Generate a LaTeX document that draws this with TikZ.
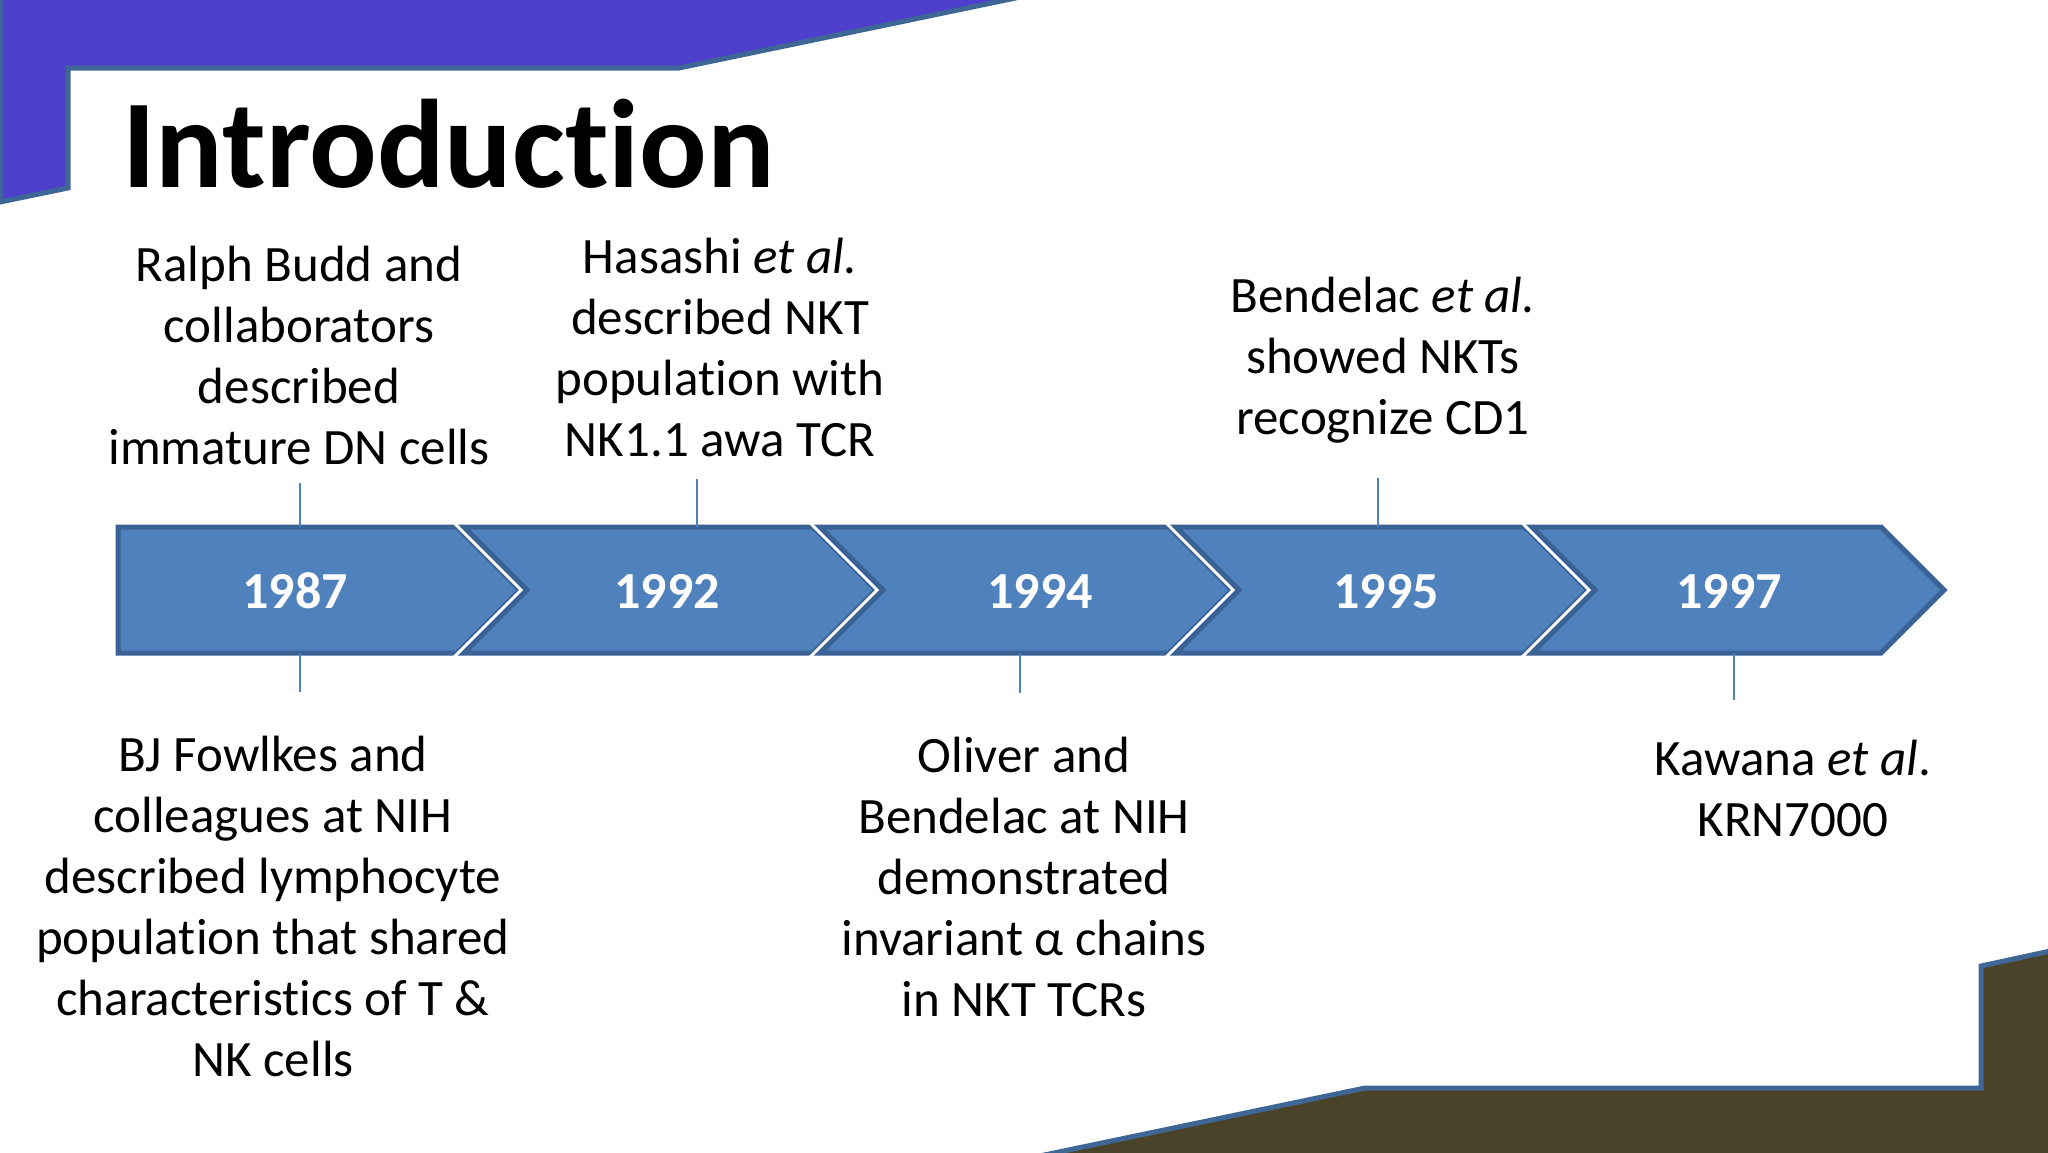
\documentclass[tikz,border=0pt]{standalone}
\usepackage{fontspec}
\setmainfont{Carlito}[Ligatures=NoCommon]
\definecolor{purpband}{HTML}{4E40CD}
\definecolor{oliveband}{HTML}{4A4329}
\definecolor{bandedge}{HTML}{3E6796}
\definecolor{chevfill}{HTML}{4F81BD}
\definecolor{chevedge}{HTML}{3B6294}
\definecolor{tickcol}{HTML}{4F81BD}
\newcommand{\bodyfont}{\fontsize{51bp}{61bp}\selectfont}
\newcommand{\yearfont}{\fontsize{52bp}{60bp}\selectfont\bfseries}
\newcommand{\titlefont}{\fontsize{126bp}{150bp}\selectfont\bfseries}
\begin{document}
\begin{tikzpicture}[x=1bp,y=-1bp,
  band/.style={draw=bandedge,line width=5bp,line join=miter},
  chevron/.style={fill=chevfill,draw=chevedge,line width=5bp,line join=miter},
  chevgap/.style={draw=white,line width=11bp,line join=miter},
  textblock/.style={align=center,font=\bodyfont,inner sep=0pt,text=black},
  yearlabel/.style={font=\yearfont,text=white,inner sep=0pt,anchor=base},
  tickline/.style={draw=tickcol,line width=2bp}]
\useasboundingbox (0,0) rectangle (2048,1152);
\fill[white] (0,0) rectangle (2048,1152);

% top-left band
\draw[band,fill=purpband] (0,-5) -- (1030,-5) -- (679,68) -- (68,68) -- (68,188) -- (0,202) -- cycle;
% bottom-right band
\draw[band,fill=oliveband] (1030,1158) -- (1365,1088) -- (1981,1088) -- (1981,966) -- (2055,950) -- (2055,1158) -- cycle;

% title
\node[font=\titlefont,anchor=base west,inner sep=0pt] (title) at (122,187) {Introduction};

% chevrons
\draw[chevron] (118,527) -- (457,527) -- (520,590) -- (457,653) -- (118,653) -- cycle;
\foreach \s/\l in {813/464,1169/820,1525/1176,1881/1532}{
  \draw[chevgap] (\l,527) -- (\s,527) -- (\s+63,590) -- (\s,653) -- (\l,653) -- (\l+63,590) -- cycle;
  \draw[chevron] (\l,527) -- (\s,527) -- (\s+63,590) -- (\s,653) -- (\l,653) -- (\l+63,590) -- cycle;
}

% year labels
\node[yearlabel] (y1987) at (295,608) {1987};
\node[yearlabel] (y1992) at (667,608) {1992};
\node[yearlabel] (y1994) at (1040,608) {1994};
\node[yearlabel] (y1995) at (1386,608) {1995};
\node[yearlabel] (y1997) at (1729,608) {1997};

% text blocks
\node[textblock] (t1) at (299,361) {\strut Ralph Budd and\\collaborators\\described\\immature DN cells\strut};
\node[textblock] (t2) at (720,353) {\strut Hasashi \emph{et al.}\\described NKT\\population with\\NK1.1 awa TCR\strut};
\node[textblock] (t4) at (1383,361) {\strut Bendelac \emph{et al.}\\showed NKTs\\recognize CD1\strut};
\node[textblock] (b1) at (273,912) {\strut BJ Fowlkes and\\colleagues at NIH\\described lymphocyte\\population that shared\\characteristics of T \&\\NK cells\strut};
\node[textblock] (b3) at (1024,882) {\strut Oliver and\\Bendelac at NIH\\demonstrated\\invariant α chains\\in NKT TCRs\strut};
\node[textblock] (b5) at (1793,794) {\strut Kawana \emph{et al}.\\KRN7000\strut};

% tick connectors
\coordinate (c1a) at (300,483); \coordinate (c1b) at (300,527);
\coordinate (c1c) at (300,653); \coordinate (c1d) at (300,692);
\coordinate (c2a) at (697,479); \coordinate (c2b) at (697,527);
\coordinate (c3a) at (1020,653); \coordinate (c3b) at (1020,693);
\coordinate (c4a) at (1378,478); \coordinate (c4b) at (1378,527);
\coordinate (c5a) at (1734,653); \coordinate (c5b) at (1734,700);
\draw[tickline] (c1a) -- (c1b);
\draw[tickline] (c1c) -- (c1d);
\draw[tickline] (c2a) -- (c2b);
\draw[tickline] (c3a) -- (c3b);
\draw[tickline] (c4a) -- (c4b);
\draw[tickline] (c5a) -- (c5b);
\end{tikzpicture}
\end{document}
